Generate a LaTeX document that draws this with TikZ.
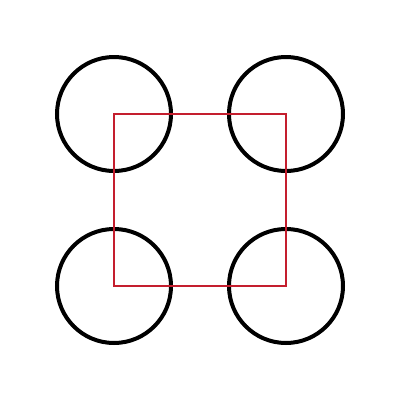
\documentclass[tikz,border=0pt]{standalone}
\begin{document}
\begin{tikzpicture}[x=1pt,y=-1pt,
  ring/.style={draw=black,line width=4pt},
  frame/.style={draw={rgb,255:red,196;green,30;blue,46},line width=2.5pt}]
\useasboundingbox (0,0) rectangle (400,400);
\coordinate (tl) at (114,114);
\coordinate (tr) at (286,114);
\coordinate (bl) at (114,286);
\coordinate (br) at (286,286);
\foreach \c in {tl,tr,bl,br}
  \draw[ring] (\c) circle[radius=57];
\draw[frame] (tl) -- (tr) -- (br) -- (bl) -- cycle;
\end{tikzpicture}
\end{document}
